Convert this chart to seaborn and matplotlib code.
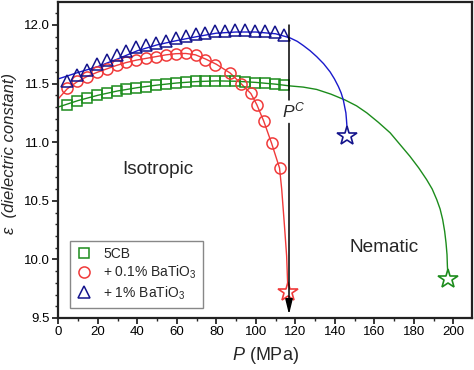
import matplotlib
matplotlib.use("Agg")
import matplotlib.pyplot as plt
from matplotlib.lines import Line2D
from matplotlib.ticker import MultipleLocator
import seaborn as sns

# ---------------- data ----------------
# marker positions (pressure, MPa)
p_5cb = [4.5, 9.5, 14.5, 19.5, 24.5, 29.5, 34.5, 39.5, 44.5, 49.5, 54.5, 59.5,
         64.5, 69.5, 74.5, 79.5, 84.5, 89.5, 94.5, 99.5, 104.5, 109.5, 114.5]
eps_5cb = [11.32, 11.355, 11.38, 11.40, 11.42, 11.435, 11.45, 11.46, 11.47, 11.484,
           11.495, 11.505, 11.512, 11.518, 11.521, 11.524, 11.524, 11.518, 11.513,
           11.508, 11.503, 11.495, 11.485]

p_01 = [4.5, 9.5, 14.5, 19.5, 24.5, 29.5, 34.5, 39.5, 44.5, 49.5, 54.5, 59.5,
        64.5, 69.5, 74.5, 79.5, 87, 92.5, 97.5, 100.5, 104, 108, 112]
eps_01 = [11.46, 11.52, 11.56, 11.595, 11.625, 11.655, 11.68, 11.70, 11.715, 11.73,
          11.745, 11.755, 11.76, 11.745, 11.70, 11.66, 11.59, 11.50, 11.42, 11.32,
          11.18, 10.99, 10.78]

p_1 = [4.5, 9.5, 14.5, 19.5, 24.5, 29.5, 34.5, 39.5, 44.5, 49.5, 54.5, 59.5,
       64.5, 69.5, 74.5, 79.5, 84.5, 89.5, 94.5, 99.5, 104.5, 109.5, 114.5]
eps_1 = [11.52, 11.575, 11.62, 11.665, 11.705, 11.745, 11.78, 11.81, 11.83, 11.85,
         11.865, 11.885, 11.905, 11.92, 11.935, 11.945, 11.95, 11.955, 11.955, 11.95,
         11.945, 11.94, 11.915]

# fitted curves
fit_5cb_p = [0, 10, 20, 30, 40, 50, 60, 70, 80, 90, 100, 110, 117.3, 124, 130.8,
             138, 145.2, 151, 156.2, 162, 168, 173, 178, 182.5, 186.5, 189.3, 191.6,
             193.3, 194.6, 195.6, 196.3, 196.8, 197.0, 197.4]
fit_5cb_e = [11.30, 11.355, 11.40, 11.437, 11.465, 11.487, 11.505, 11.517, 11.523,
             11.52, 11.51, 11.495, 11.48, 11.47, 11.45, 11.41, 11.36, 11.31, 11.25,
             11.17, 11.08, 10.98, 10.88, 10.78, 10.68, 10.60, 10.51, 10.43, 10.34,
             10.24, 10.14, 10.04, 9.94, 9.83]

fit_01_p = [0, 4.5, 9.5, 14.5, 19.5, 24.5, 29.5, 34.5, 39.5, 44.5, 49.5, 54.5, 59.5,
            64.5, 69.5, 74.5, 80, 87, 92.5, 97.5, 100.5, 104, 108, 112, 113.1,
            114.4, 115.6, 116.1, 116.3]
fit_01_e = [11.37, 11.455, 11.515, 11.56, 11.595, 11.625, 11.655, 11.68, 11.70,
            11.715, 11.73, 11.745, 11.755, 11.757, 11.745, 11.71, 11.665, 11.59,
            11.50, 11.415, 11.32, 11.18, 10.99, 10.78, 10.60, 10.31, 10.03, 9.80, 9.72]

fit_1_p = [0, 10, 20, 30, 40, 50, 60, 70, 80, 90, 100, 110, 117.3, 121, 124,
           127.5, 130.8, 134.3, 137.6, 139.8, 141.8, 143.2, 144.3, 145.0, 145.6,
           145.9, 146.2, 146.3]
fit_1_e = [11.54, 11.595, 11.645, 11.71, 11.78, 11.83, 11.867, 11.90, 11.93, 11.94,
           11.94, 11.925, 11.89, 11.86, 11.825, 11.78, 11.73, 11.67, 11.60, 11.54,
           11.475, 11.42, 11.36, 11.30, 11.25, 11.19, 11.12, 11.05]

# end points (stars)
star_p = [197.4, 116.3, 146.3]
star_e = [9.83, 9.72, 11.05]

labels = ["5CB", "+ 0.1% BaTiO$_3$", "+ 1% BaTiO$_3$"]
PC = 116.8  # critical pressure marker

# ---------------- style ----------------
sns.set_theme(style="ticks")
plt.rcParams.update({
    "font.family": ["Liberation Sans", "DejaVu Sans"],
    "mathtext.fontset": "custom",
    "mathtext.rm": "Liberation Sans",
    "mathtext.it": "Liberation Sans:italic",
    "mathtext.bf": "Liberation Sans:bold",
})

GREEN = "#1c8c1c"
RED = "#f03a3a"
BLUE_L = "#1a1acc"
BLUE_M = "#14148c"

fig = plt.figure(figsize=(4.74, 3.70), dpi=100)
fig.patch.set_facecolor("white")
ax = fig.add_axes([58.3 / 474, 52 / 370, 414 / 474, 316 / 370])
ax.set_facecolor("white")

# curves
for xs, ys, c in [(fit_5cb_p, fit_5cb_e, GREEN), (fit_01_p, fit_01_e, RED),
                  (fit_1_p, fit_1_e, BLUE_L)]:
    sns.lineplot(x=xs, y=ys, ax=ax, color=c, lw=1.0, sort=False, estimator=None)

# markers
mk = [("s", p_5cb, eps_5cb, GREEN, 6.5), ("o", p_01, eps_01, RED, 8.0),
      ("^", p_1, eps_1, BLUE_M, 8.5)]
for m, xs, ys, c, ms in mk:
    sns.lineplot(x=xs, y=ys, ax=ax, marker=m, linestyle="", color=c,
                 markersize=ms, markerfacecolor="none", markeredgecolor=c,
                 markeredgewidth=1.1, sort=False, estimator=None)

star_cols = [GREEN, RED, BLUE_M]
for xp, yp, c in zip(star_p, star_e, star_cols):
    sns.lineplot(x=[xp], y=[yp], ax=ax, marker="*", linestyle="", color=c,
                 markersize=15, markerfacecolor="white", markeredgecolor=c,
                 markeredgewidth=1.2, estimator=None)

# critical pressure line + arrow
ax.plot([PC, PC], [12.0, 11.36], color="black", lw=1.1)
ax.annotate("", xy=(PC, 9.53), xytext=(PC, 11.16),
            arrowprops=dict(arrowstyle="-|>,head_length=0.9,head_width=0.22",
                            color="black", lw=1.1, mutation_scale=10,
                            shrinkA=0, shrinkB=0))
ax.text(119.3, 11.27, r"$P^C$", ha="center", va="center", fontsize=12.5)

ax.text(50.5, 10.77, "Isotropic", ha="center", va="center", fontsize=13.7)
ax.text(165, 10.10, "Nematic", ha="center", va="center", fontsize=13.7)

# axes
ax.set_xlim(0, 209.6)
ax.set_ylim(9.5, 12.196)
ax.xaxis.set_major_locator(MultipleLocator(20))
ax.xaxis.set_minor_locator(MultipleLocator(10))
ax.yaxis.set_major_locator(MultipleLocator(0.5))
ax.yaxis.set_minor_locator(MultipleLocator(0.1))
ax.yaxis.set_major_formatter(plt.FormatStrFormatter("%.1f"))
ax.tick_params(which="major", direction="out", length=4, width=1.1,
               labelsize=9.5, colors="black", top=False, right=False, pad=2)
ax.tick_params(which="minor", direction="out", length=2.5, width=1.0,
               top=False, right=False)
for s in ax.spines.values():
    s.set_linewidth(1.6)
    s.set_color("#222222")
ax.set_xlabel("")
ax.set_ylabel("")

fig.text(265 / 474, 1 - 355 / 370, r"$P$ (MPa)", ha="center", va="center",
         fontsize=13)
fig.text(10 / 474, 1 - 153 / 370, "ε  (dielectric constant)", ha="center",
         va="center", rotation=90, fontsize=12, fontstyle="italic")

# legend
handles = [Line2D([], [], marker=m, ls="none", mfc="none", mec=c, ms=ms, mew=1.1)
           for m, _, _, c, ms in mk]
leg = ax.legend(handles, labels, loc="lower left", bbox_to_anchor=(0.029, 0.032),
                borderaxespad=0, frameon=True, fancybox=False, framealpha=1,
                edgecolor="#888888", fontsize=10, handlelength=1.0,
                handletextpad=0.9, borderpad=0.45, labelspacing=0.2)
leg.get_frame().set_linewidth(1.0)

fig.savefig("out.png", dpi=100, facecolor="white")
